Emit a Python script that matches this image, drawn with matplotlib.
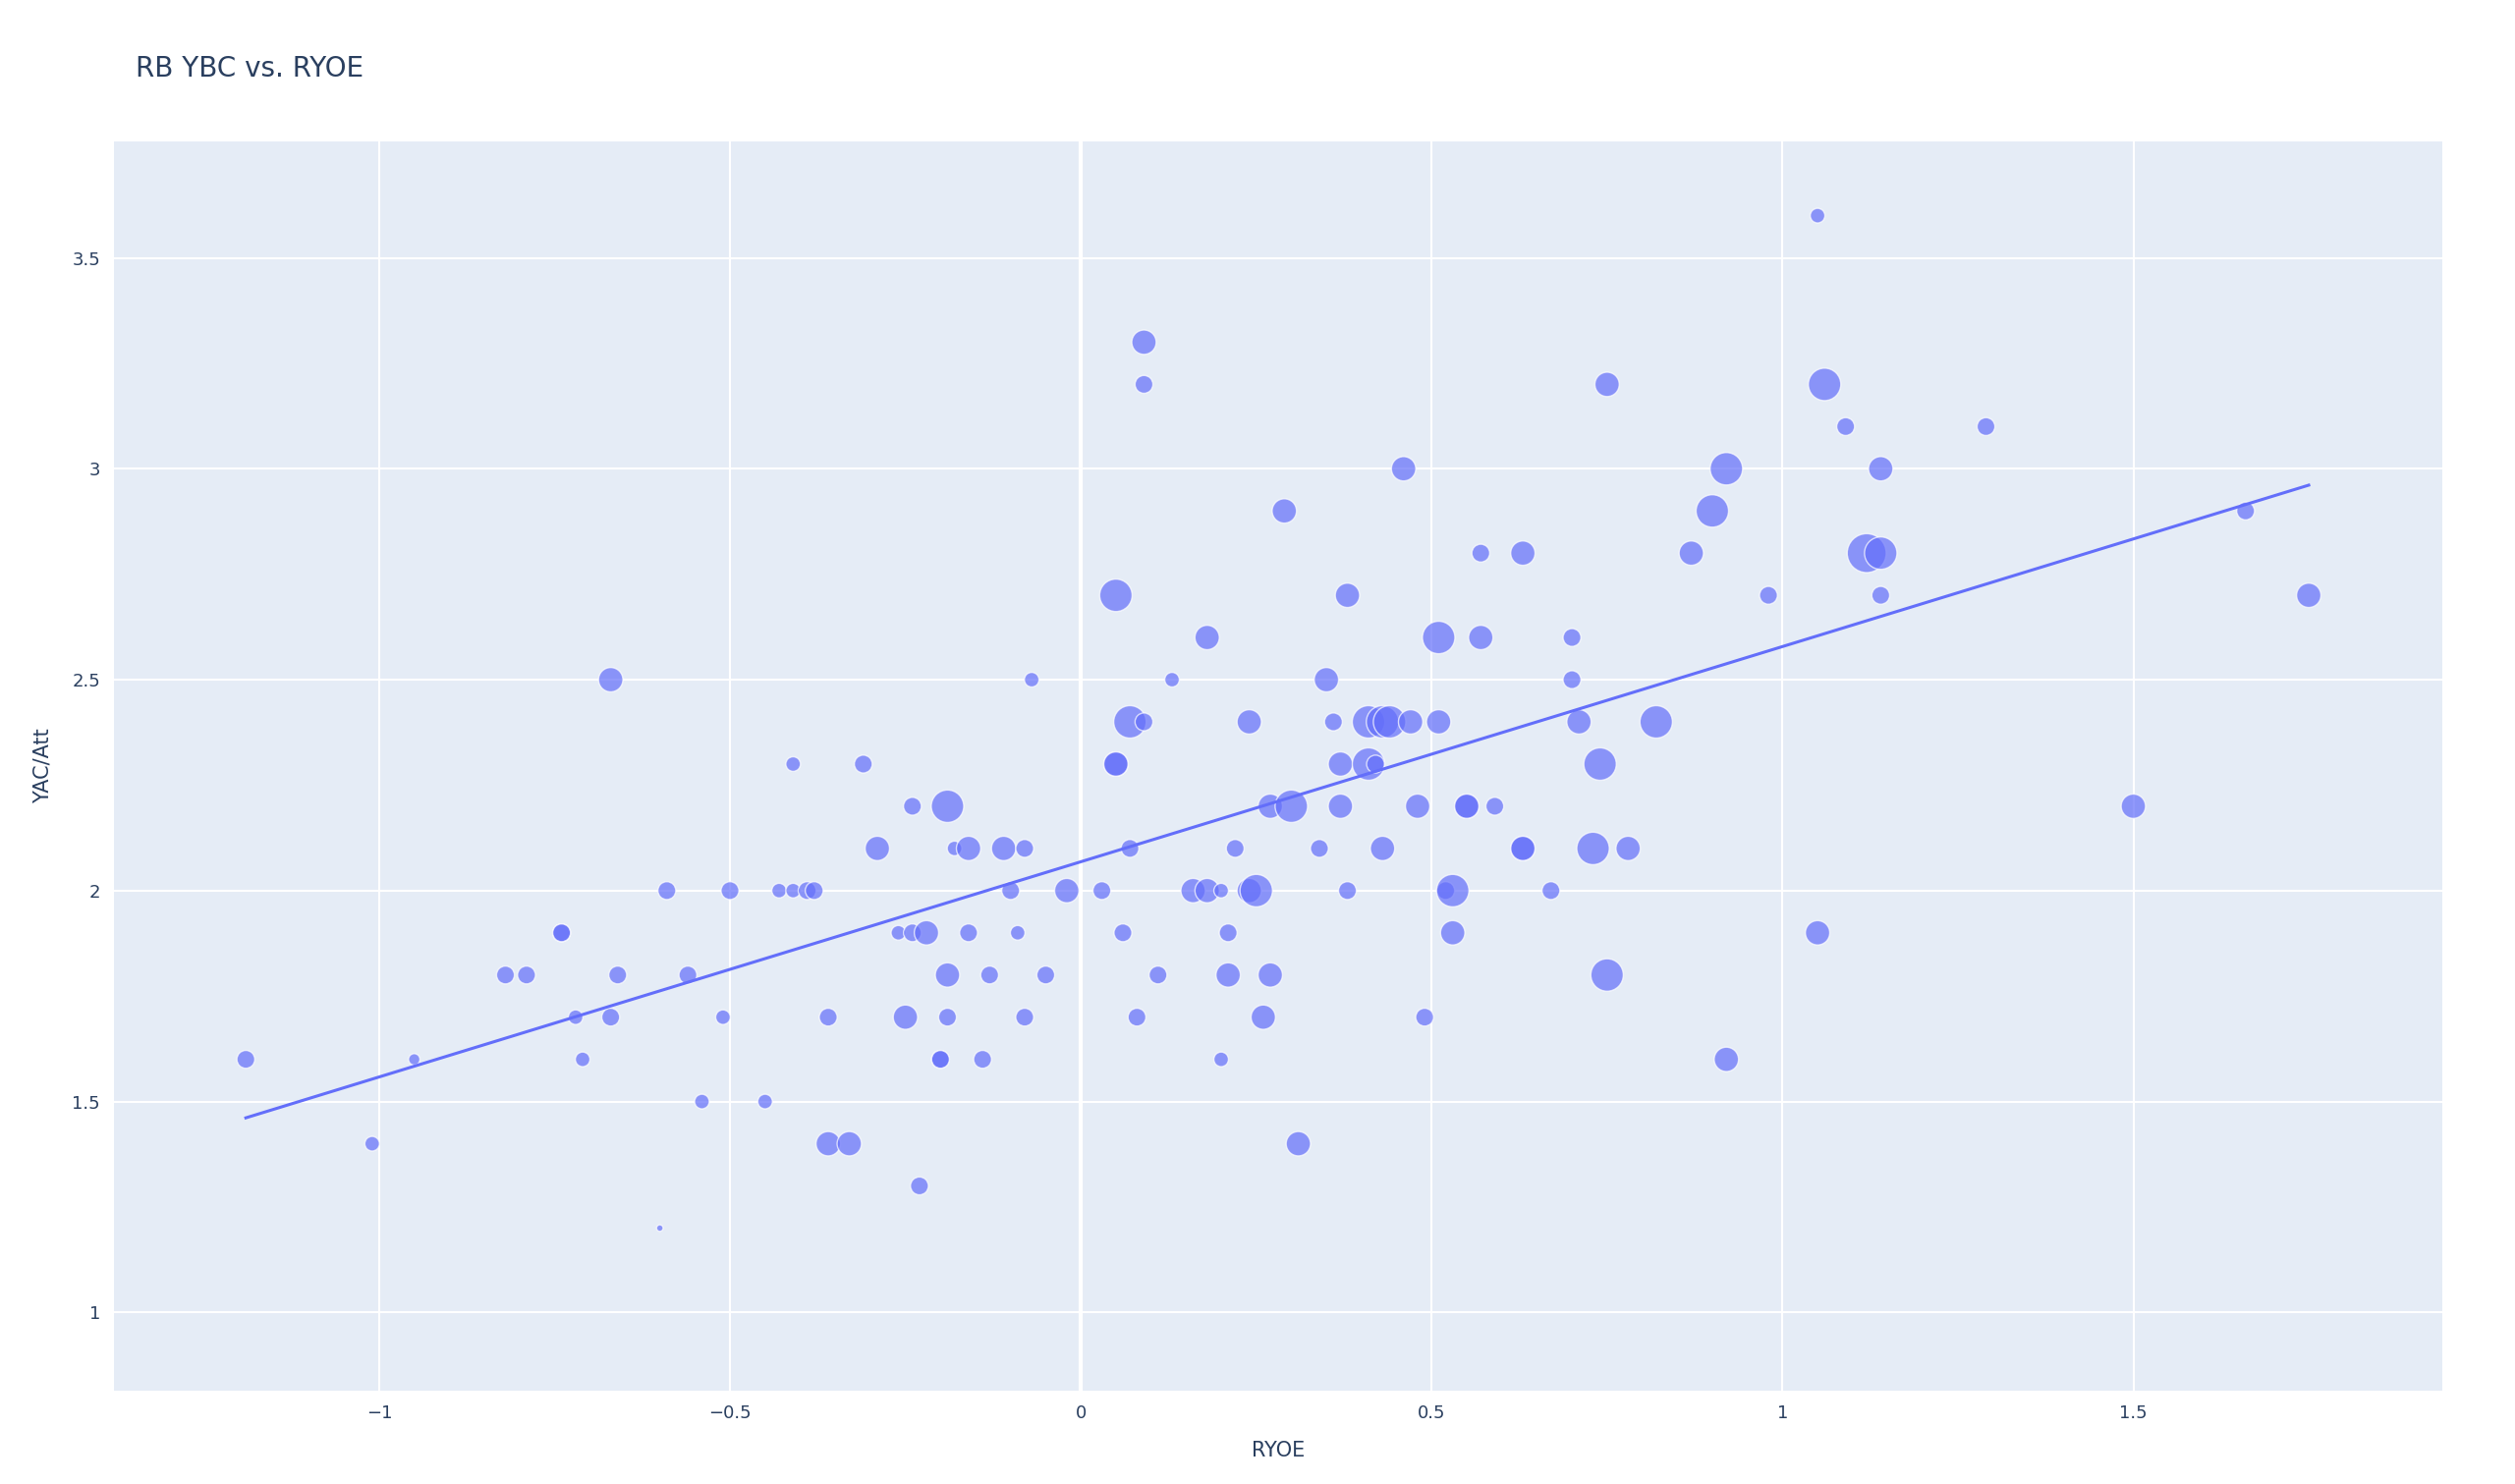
import numpy as np
import matplotlib
matplotlib.use("Agg")
import matplotlib.pyplot as plt

# RYOE, YAC/Att, bubble radius class (1=tiny .. 6=largest)
ryoe = [-1.19,-1.01,-0.95,-0.82,-0.79,-0.74,-0.74,-0.72,-0.71,-0.67,-0.67,-0.66,-0.60,-0.59,-0.56,-0.54,-0.51,-0.50,-0.45,-0.43,
        -0.41,-0.41,-0.39,-0.38,-0.36,-0.36,-0.33,-0.31,-0.29,-0.26,-0.25,-0.24,-0.24,-0.23,-0.22,-0.20,-0.20,-0.19,-0.19,-0.19,
        -0.18,-0.16,-0.16,-0.14,-0.13,-0.11,-0.10,-0.09,-0.08,-0.08,-0.07,-0.05,-0.02,0.03,0.05,0.05,0.05,0.06,0.07,0.07,
        0.08,0.09,0.09,0.09,0.11,0.13,0.16,0.18,0.18,0.20,0.20,0.21,0.21,0.22,0.24,0.24,0.25,0.26,0.27,0.27,
        0.29,0.30,0.31,0.34,0.35,0.36,0.37,0.37,0.38,0.38,0.41,0.41,0.42,0.43,0.43,0.44,0.46,0.47,0.48,0.49,
        0.51,0.51,0.52,0.53,0.53,0.55,0.55,0.57,0.57,0.59,0.63,0.63,0.63,0.67,0.70,0.70,0.71,0.73,0.74,0.75,
        0.75,0.78,0.82,0.87,0.90,0.92,0.92,0.98,1.05,1.05,1.06,1.09,1.12,1.14,1.14,1.14,1.29,1.50,1.66,1.75]
yac = [1.6,1.4,1.6,1.8,1.8,1.9,1.9,1.7,1.6,2.5,1.7,1.8,1.2,2.0,1.8,1.5,1.7,2.0,1.5,2.0,
       2.3,2.0,2.0,2.0,1.4,1.7,1.4,2.3,2.1,1.9,1.7,2.2,1.9,1.3,1.9,1.6,1.6,2.2,1.8,1.7,
       2.1,2.1,1.9,1.6,1.8,2.1,2.0,1.9,2.1,1.7,2.5,1.8,2.0,2.0,2.7,2.3,2.3,1.9,2.4,2.1,
       1.7,3.3,3.2,2.4,1.8,2.5,2.0,2.6,2.0,2.0,1.6,1.9,1.8,2.1,2.4,2.0,2.0,1.7,2.2,1.8,
       2.9,2.2,1.4,2.1,2.5,2.4,2.3,2.2,2.7,2.0,2.4,2.3,2.3,2.1,2.4,2.4,3.0,2.4,2.2,1.7,
       2.6,2.4,2.0,2.0,1.9,2.2,2.2,2.8,2.6,2.2,2.8,2.1,2.1,2.0,2.6,2.5,2.4,2.1,2.3,3.2,
       1.8,2.1,2.4,2.8,2.9,3.0,1.6,2.7,3.6,1.9,3.2,3.1,2.8,2.8,3.0,2.7,3.1,2.2,2.9,2.7]
size_cls = [3,2,1,3,3,3,3,2,2,4,3,3,0,3,3,2,2,3,2,2,
            2,2,3,3,4,3,4,3,4,2,4,3,3,3,4,3,3,5,4,3,
            2,4,3,3,3,4,3,2,3,3,2,3,4,3,5,4,4,3,5,3,
            3,4,3,3,3,2,4,4,4,2,2,3,4,3,4,4,5,4,4,4,
            4,5,4,3,4,3,4,4,4,3,5,5,3,4,5,5,4,4,4,3,
            5,4,3,5,4,4,4,3,4,3,4,4,4,3,3,3,4,5,5,4,
            5,4,5,4,5,5,4,3,2,4,5,3,6,5,4,3,3,4,3,4]

radius_px = [2, 3.5, 4.5, 5.5, 7.5, 10, 12]  # display radius per class

fig = plt.figure(figsize=(25.6, 15.11), dpi=100)
ax = fig.add_axes([0.0453, 0.063, 0.9257, 0.842])
ax.set_facecolor("#E5ECF6")
ax.grid(True, color="white", linewidth=1.5)
ax.set_axisbelow(True)
for sp in ax.spines.values():
    sp.set_visible(False)
ax.axvline(0, color="white", linewidth=3, zorder=0.5)

s = [(2 * radius_px[c] * 1.652 * 0.72) ** 2 for c in size_cls]
ax.scatter(ryoe, yac, s=s, color="#636EFA", alpha=0.7, edgecolors="white", linewidths=1, zorder=3)

k, b = np.polyfit(ryoe, yac, 1)
xl = np.array([min(ryoe), max(ryoe)])
ax.plot(xl, k * xl + b, color="#636EFA", linewidth=2.2, zorder=4)

ax.set_xlim(-1.378, 1.94)
ax.set_ylim(0.815, 3.777)
ax.set_xticks([-1, -0.5, 0, 0.5, 1, 1.5])
ax.set_xticklabels(["\u22121", "\u22120.5", "0", "0.5", "1", "1.5"])
ax.set_yticks([1, 1.5, 2, 2.5, 3, 3.5])
ax.set_yticklabels(["1", "1.5", "2", "2.5", "3", "3.5"])
ax.tick_params(length=0, labelsize=13, colors="#2a3f5f", pad=10)
ax.set_xlabel("RYOE", fontsize=15, color="#2a3f5f", labelpad=14)
ax.set_ylabel("YAC/Att", fontsize=15, color="#2a3f5f", labelpad=14)
fig.text(0.054, 0.954, "RB YBC vs. RYOE", fontsize=20, color="#2a3f5f", va="center")

fig.savefig("out.png", dpi=100, facecolor="white")
